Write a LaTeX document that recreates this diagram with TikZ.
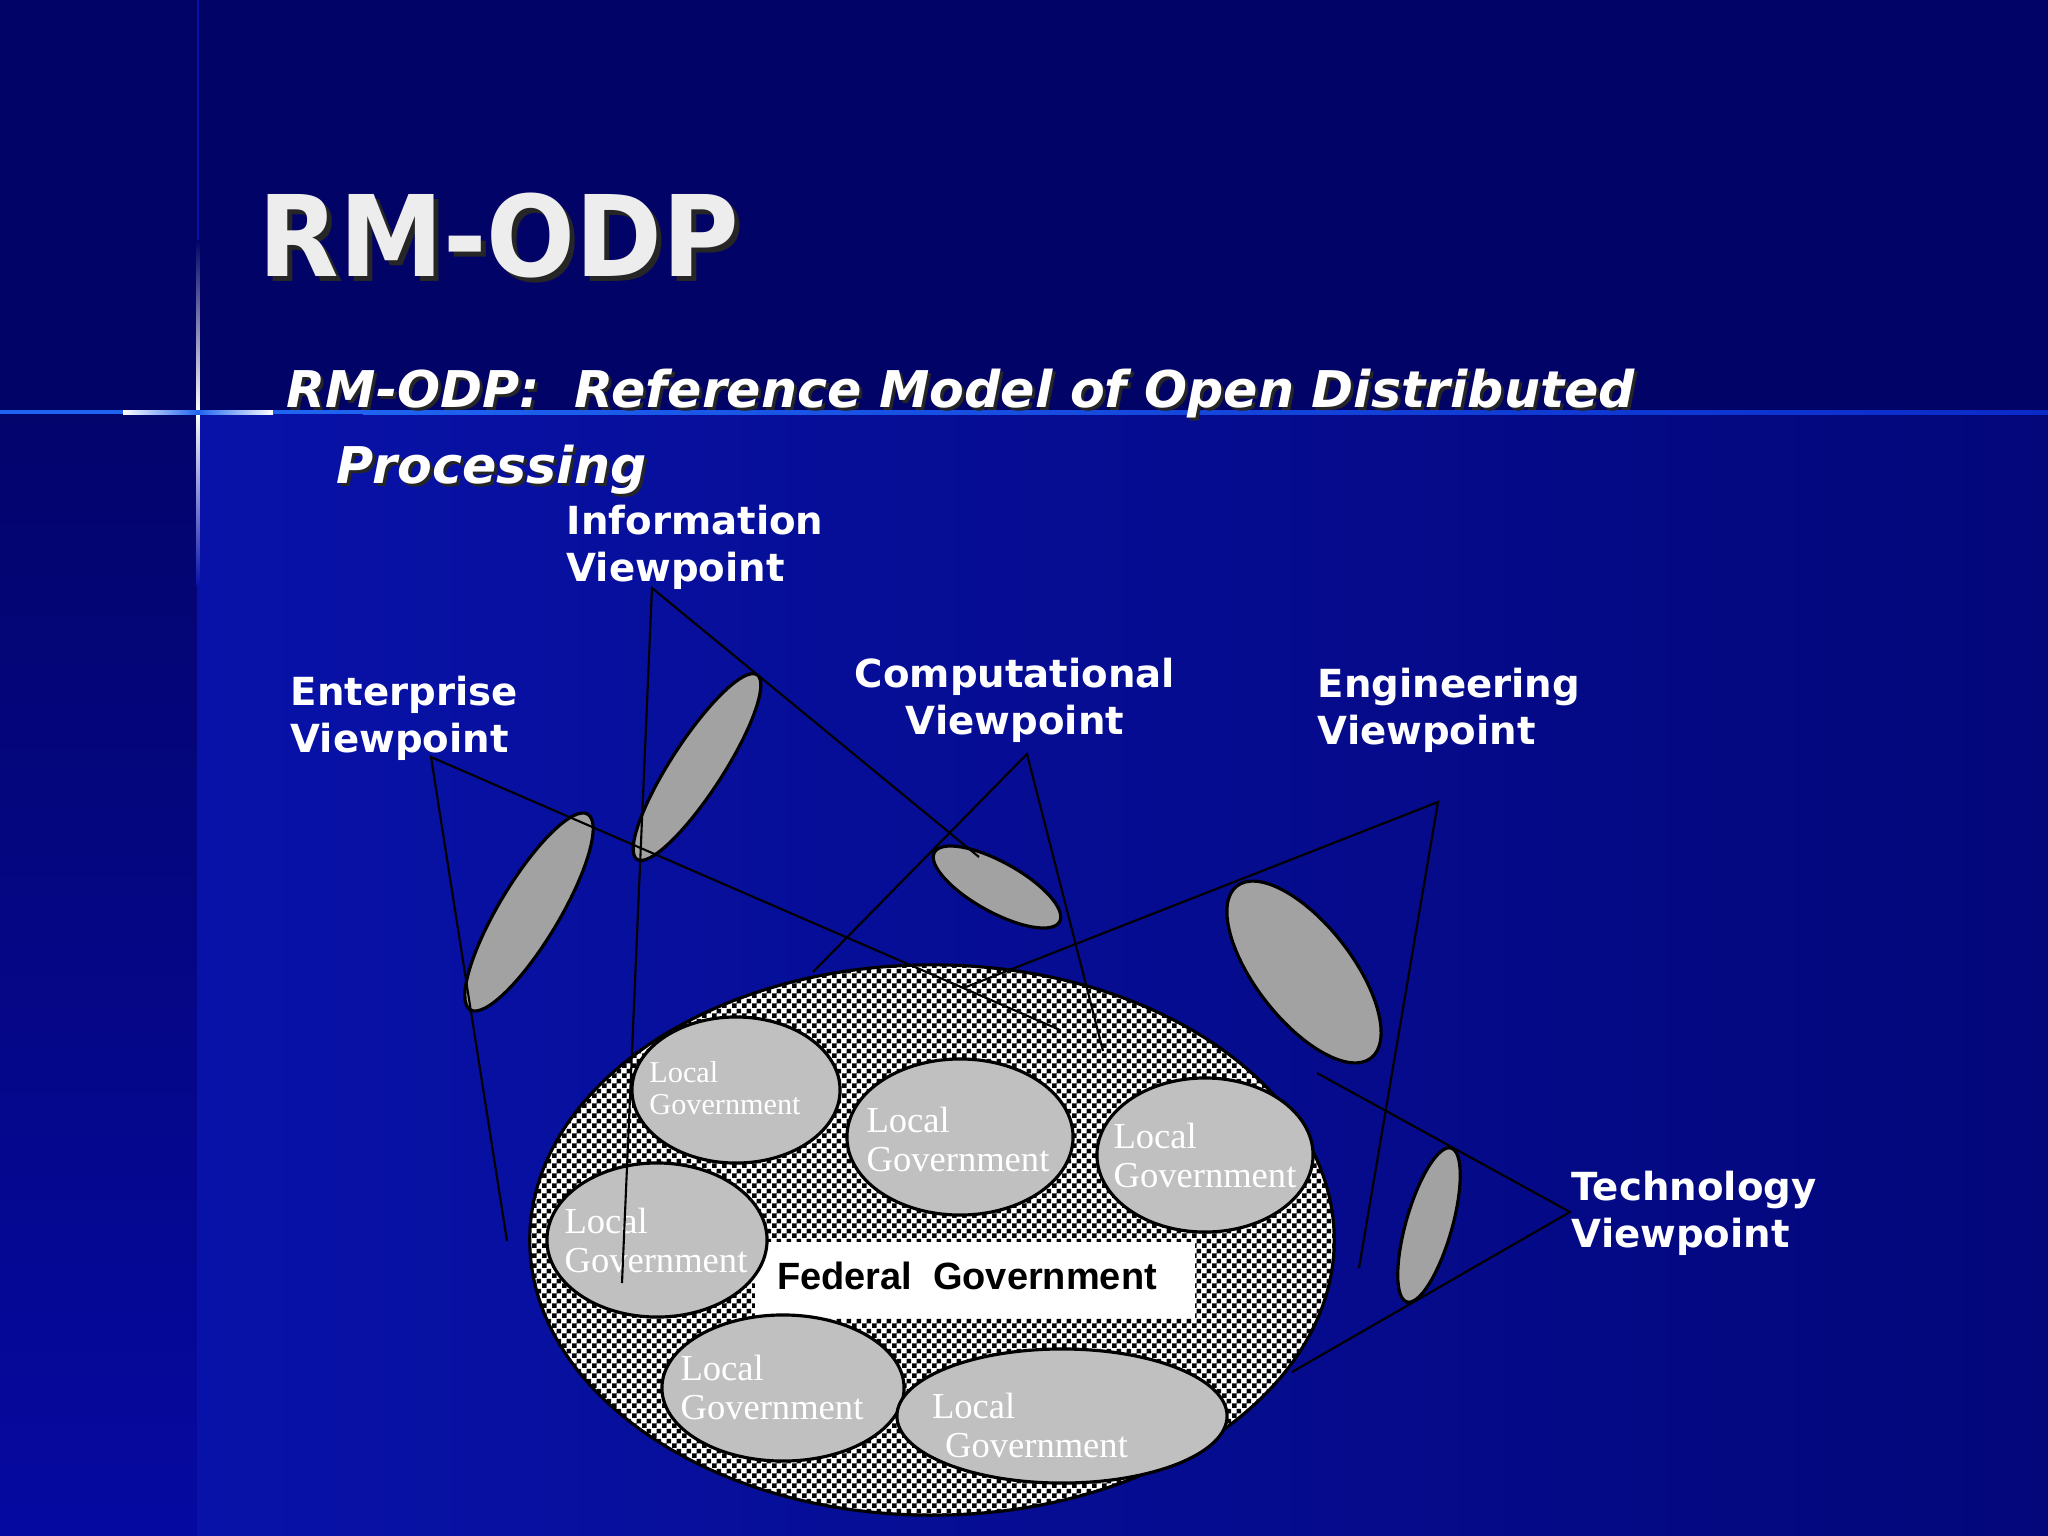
\documentclass[tikz,border=0pt]{standalone}
\usepackage{fontspec}
\setmainfont{Liberation Serif}
\newfontfamily\viewfont{DejaVu Sans}
\newfontfamily\fedfont{Liberation Sans}
\usetikzlibrary{shapes.geometric,patterns}

\definecolor{bgTop}{HTML}{020366}
\definecolor{bgLowL}{HTML}{0812A8}
\definecolor{bgLowR}{HTML}{03077A}
\definecolor{bgStripTop}{HTML}{03046C}
\definecolor{bgStripBot}{HTML}{0609A0}
\definecolor{lineBlue}{HTML}{1E64F0}
\definecolor{lineDark}{HTML}{0A2AC8}
\definecolor{lensGray}{HTML}{A2A2A2}
\definecolor{localGray}{HTML}{C0C0C0}
\definecolor{titleWhite}{HTML}{EDEDED}

\pgfdeclarepatternformonly{fedDots}{\pgfpointorigin}{\pgfpoint{2.7pt}{2.7pt}}{\pgfpoint{2.7pt}{2.7pt}}{%
	\pgfpathrectangle{\pgfpointorigin}{\pgfpoint{1.35pt}{1.35pt}}%
	\pgfpathrectangle{\pgfpoint{1.35pt}{1.35pt}}{\pgfpoint{1.35pt}{1.35pt}}%
	\pgfusepath{fill}}

\tikzset{
	viewlabel/.style={text=white, font=\viewfont\bfseries\fontsize{11}{13.2}\selectfont, align=left, inner sep=0pt, anchor=base west},
	lens/.style={ellipse, draw=black, line width=0.9pt, fill=lensGray, inner sep=0pt},
	localgov/.style={ellipse, draw=black, line width=0.9pt, fill=localGray, inner sep=0pt},
	lgtext/.style={text=white, font=\fontsize{10.4}{11.1}\selectfont, align=left, inner sep=0pt},
	fedellipse/.style={ellipse, draw=black, line width=0.9pt, inner sep=0pt, preaction={fill=white}, pattern=fedDots, pattern color=black},
	fedbox/.style={fill=white, inner sep=0pt, text=black, font=\fedfont\bfseries\fontsize{10.8}{13}\selectfont, text depth=0.16cm},
	viewline/.style={black, line width=0.6pt},
}

\begin{document}
\begin{tikzpicture}[x=0.01cm, y=-0.01cm]
		\useasboundingbox (0,0) rectangle (2048,1536);
		\fill[bgTop] (0,0) rectangle (2048,1536);
		\shade[left color=bgLowL, right color=bgLowR] (198,412) rectangle (2048,1536);
		\shade[top color=bgStripTop, bottom color=bgStripBot] (0,412) rectangle (198,1536);
		\draw[line width=0.5pt, color=bgLowL] (198,0) -- (198,1536);
		\shade[top color=bgTop, middle color=lineBlue, bottom color=white] (196.5,240) rectangle (199.5,412);
		\shade[top color=white, middle color=lineBlue, bottom color=bgLowL] (196.5,412) rectangle (199.5,585);
		\fill[lineBlue] (0,410) rectangle (123,414);
		\shade[left color=white, right color=lineBlue] (123,410) rectangle (198,414);
		\shade[left color=lineBlue, right color=white] (198,410) rectangle (273,414);
		\fill[lineBlue] (273,410) rectangle (363,414);
		\shade[left color=lineBlue, right color=lineDark] (363,410) rectangle (2048,414);

		\node[anchor=base west, inner sep=0pt, text=black!85, font=\viewfont\bfseries\fontsize{32}{38}\selectfont] (titleShadow) at (263,281) {\scalebox{0.93}[1]{RM-ODP}};
		\node[anchor=base west, inner sep=0pt, text=titleWhite, font=\viewfont\bfseries\fontsize{32}{38}\selectfont] (title) at (258,276) {\scalebox{0.93}[1]{RM-ODP}};
		\node[anchor=base west, inner sep=0pt, align=left, text=black!85, font=\viewfont\bfseries\itshape\fontsize{14.4}{21.6}\selectfont] (subtitleShadow) at (289,486) {RM-ODP:\ \ Reference Model of Open Distributed\\\hspace*{0.5cm}Processing};
		\node[anchor=base west, inner sep=0pt, align=left, text=white, font=\viewfont\bfseries\itshape\fontsize{14.4}{21.6}\selectfont] (subtitle) at (286,483) {RM-ODP:\ \ Reference Model of Open Distributed\\\hspace*{0.5cm}Processing};

		\node[viewlabel] (infoLabel) at (566,581) {Information\\Viewpoint};
		\node[viewlabel] (entLabel) at (290,752) {Enterprise\\Viewpoint};
		\node[viewlabel, align=center, anchor=base] (compLabel) at (1015,734) {Computational\\Viewpoint};
		\node[viewlabel] (engLabel) at (1317,744) {Engineering\\Viewpoint};
		\node[viewlabel] (techLabel) at (1571,1247) {Technology\\Viewpoint};

		\node[fedellipse, minimum width=8.04cm, minimum height=5.50cm] (fed) at (932,1240) {};
		\node[fedbox, minimum width=4.40cm, minimum height=0.76cm] (fedLabel) at (975,1280) {};
		\node[inner sep=0pt, text=black, font=\fedfont\bfseries\fontsize{10.8}{13}\selectfont] (fedText) at (967,1276) {Federal~ Government};

		\node[localgov, minimum width=2.08cm, minimum height=1.46cm] (lg1) at (736,1090) {};
		\node[localgov, minimum width=2.26cm, minimum height=1.56cm] (lg2) at (960,1137) {};
		\node[localgov, minimum width=2.16cm, minimum height=1.54cm] (lg3) at (1205,1155) {};
		\node[localgov, minimum width=2.20cm, minimum height=1.54cm] (lg4) at (657,1240) {};
		\node[localgov, minimum width=2.42cm, minimum height=1.46cm] (lg5) at (783,1388) {};
		\node[localgov, minimum width=3.30cm, minimum height=1.34cm] (lg6) at (1062,1416) {};
		\node[lgtext, font=\fontsize{8.6}{9.2}\selectfont] (lg1text) at (725,1088) {Local\\Government};
		\node[lgtext] (lg2text) at (958,1139) {Local\\Government};
		\node[lgtext] (lg3text) at (1205,1155) {Local\\Government};
		\node[lgtext] (lg4text) at (656,1240) {Local\\Government};
		\node[lgtext] (lg5text) at (772,1387) {Local\\Government};
		\node[lgtext] (lg6text) at (1030,1425) {Local\\\hspace*{0.13cm}Government};

		\node[lens, minimum width=2.28cm, minimum height=0.60cm, rotate=59] (entLens) at (529,912) {};
		\node[lens, minimum width=2.20cm, minimum height=0.52cm, rotate=57] (infoLens) at (697,767) {};
		\node[lens, minimum width=1.43cm, minimum height=0.50cm, rotate=-29] (compLens) at (997,887) {};
		\node[lens, minimum width=2.18cm, minimum height=0.96cm, rotate=-52] (engLens) at (1304,972) {};
		\node[lens, minimum width=1.60cm, minimum height=0.46cm, rotate=74] (techLens) at (1429,1225) {};

		\coordinate (entApex) at (431,757);
		\coordinate (entEndA) at (507,1241);
		\coordinate (entEndB) at (1060,1030);
		\coordinate (infoApex) at (652,588);
		\coordinate (infoEndA) at (622,1283);
		\coordinate (infoEndB) at (979,857);
		\coordinate (compApex) at (1027,754);
		\coordinate (compEndA) at (813,972);
		\coordinate (compEndB) at (1103,1051);
		\coordinate (engApex) at (1438,802);
		\coordinate (engEndA) at (966,987);
		\coordinate (engEndB) at (1359,1268);
		\coordinate (techApex) at (1570,1212);
		\coordinate (techEndA) at (1317,1073);
		\coordinate (techEndB) at (1292,1372);

		\draw[viewline] (entEndA) -- (entApex) -- (entEndB);
		\draw[viewline] (infoEndA) -- (infoApex) -- (infoEndB);
		\draw[viewline] (compEndA) -- (compApex) -- (compEndB);
		\draw[viewline] (engEndA) -- (engApex) -- (engEndB);
		\draw[viewline] (techEndA) -- (techApex) -- (techEndB);
\end{tikzpicture}
\end{document}
